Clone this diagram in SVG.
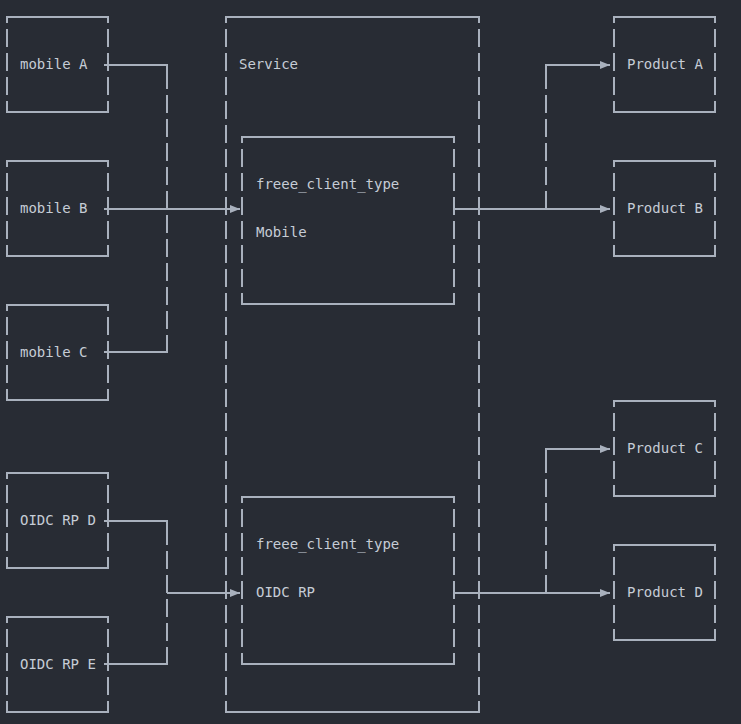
<svg xmlns="http://www.w3.org/2000/svg" width="741" height="724" viewBox="0 0 741 724">
<style>
.b{fill:none;stroke:#a9b1bd;stroke-width:2}
.v{fill:none;stroke:#a9b1bd;stroke-width:2;stroke-dasharray:18 6}
.t{fill:#c6ccd6;font-family:"DejaVu Sans Mono","Liberation Mono",monospace;font-size:14px}
</style>
<defs>
<marker id="a" viewBox="0 0 10 10" refX="10" refY="5" markerWidth="10" markerHeight="10" markerUnits="userSpaceOnUse" orient="auto"><path d="M0,1 L10,5 L0,9 z" fill="#a9b1bd"/></marker>
</defs>
<rect width="741" height="724" fill="#282c34"/>
<g id="service">
<path class="b" d="M226,23 V17 H479 V23 M226,706 V712 H479 V706"/>
<path class="v" d="M226,17 V712 M479,17 V712" stroke-dashoffset="12"/>
<text class="t" x="239" y="69">Service</text>
</g>
<g id="mobileGroup">
<path class="b" d="M242,143 V137 H454 V143 M242,298 V304 H454 V298"/>
<path class="v" d="M242,137 V304 M454,137 V304" stroke-dashoffset="12"/>
<text class="t" x="256" y="189">freee_client_type</text>
<text class="t" x="256" y="237">Mobile</text>
</g>
<g id="oidcGroup">
<path class="b" d="M242,503 V497 H454 V503 M242,658 V664 H454 V658"/>
<path class="v" d="M242,497 V664 M454,497 V664" stroke-dashoffset="12"/>
<text class="t" x="256" y="549">freee_client_type</text>
<text class="t" x="256" y="597">OIDC RP</text>
</g>
<g id="mobileA">
<path class="b" d="M7,23 V17 H108 V23 M7,106 V112 H108 V106"/><path class="v" d="M7,17 V112 M108,17 V112" stroke-dashoffset="12"/>
<text class="t" x="20" y="69">mobile A</text></g>
<g id="mobileB">
<path class="b" d="M7,167 V161 H108 V167 M7,250 V256 H108 V250"/><path class="v" d="M7,161 V256 M108,161 V256" stroke-dashoffset="12"/>
<text class="t" x="20" y="213">mobile B</text></g>
<g id="mobileC">
<path class="b" d="M7,311 V305 H108 V311 M7,394 V400 H108 V394"/><path class="v" d="M7,305 V400 M108,305 V400" stroke-dashoffset="12"/>
<text class="t" x="20" y="357">mobile C</text></g>
<g id="oidcD">
<path class="b" d="M7,479 V473 H108 V479 M7,562 V568 H108 V562"/><path class="v" d="M7,473 V568 M108,473 V568" stroke-dashoffset="12"/>
<text class="t" x="20" y="525">OIDC RP D</text></g>
<g id="oidcE">
<path class="b" d="M7,623 V617 H108 V623 M7,706 V712 H108 V706"/><path class="v" d="M7,617 V712 M108,617 V712" stroke-dashoffset="12"/>
<text class="t" x="20" y="669">OIDC RP E</text></g>
<g id="productA">
<path class="b" d="M614,23 V17 H715 V23 M614,106 V112 H715 V106"/><path class="v" d="M614,17 V112 M715,17 V112" stroke-dashoffset="12"/>
<text class="t" x="627" y="69">Product A</text></g>
<g id="productB">
<path class="b" d="M614,167 V161 H715 V167 M614,250 V256 H715 V250"/><path class="v" d="M614,161 V256 M715,161 V256" stroke-dashoffset="12"/>
<text class="t" x="627" y="213">Product B</text></g>
<g id="productC">
<path class="b" d="M614,407 V401 H715 V407 M614,490 V496 H715 V490"/><path class="v" d="M614,401 V496 M715,401 V496" stroke-dashoffset="12"/>
<text class="t" x="627" y="453">Product C</text></g>
<g id="productD">
<path class="b" d="M614,551 V545 H715 V551 M614,634 V640 H715 V634"/><path class="v" d="M614,545 V640 M715,545 V640" stroke-dashoffset="12"/>
<text class="t" x="627" y="597">Product D</text></g>
<g id="connectors">
<path class="b" d="M104,65 H167 V71 M104,352 H167 V346"/>
<path class="v" d="M167,65 V352" stroke-dashoffset="18"/>
<path class="b" d="M104,209 H240" marker-end="url(#a)"/>
<path class="b" d="M454,209 H610" marker-end="url(#a)"/>
<path class="b" d="M546,71 V65 H610" marker-end="url(#a)"/>
<path class="v" d="M546,65 V209" stroke-dashoffset="18"/>
<path class="b" d="M104,521 H167 V527 M104,664 H167 V658"/>
<path class="v" d="M167,521 V664" stroke-dashoffset="18"/>
<path class="b" d="M167,593 H240" marker-end="url(#a)"/>
<path class="b" d="M454,593 H610" marker-end="url(#a)"/>
<path class="b" d="M546,455 V449 H610" marker-end="url(#a)"/>
<path class="v" d="M546,449 V593" stroke-dashoffset="18"/>
</g>
</svg>
